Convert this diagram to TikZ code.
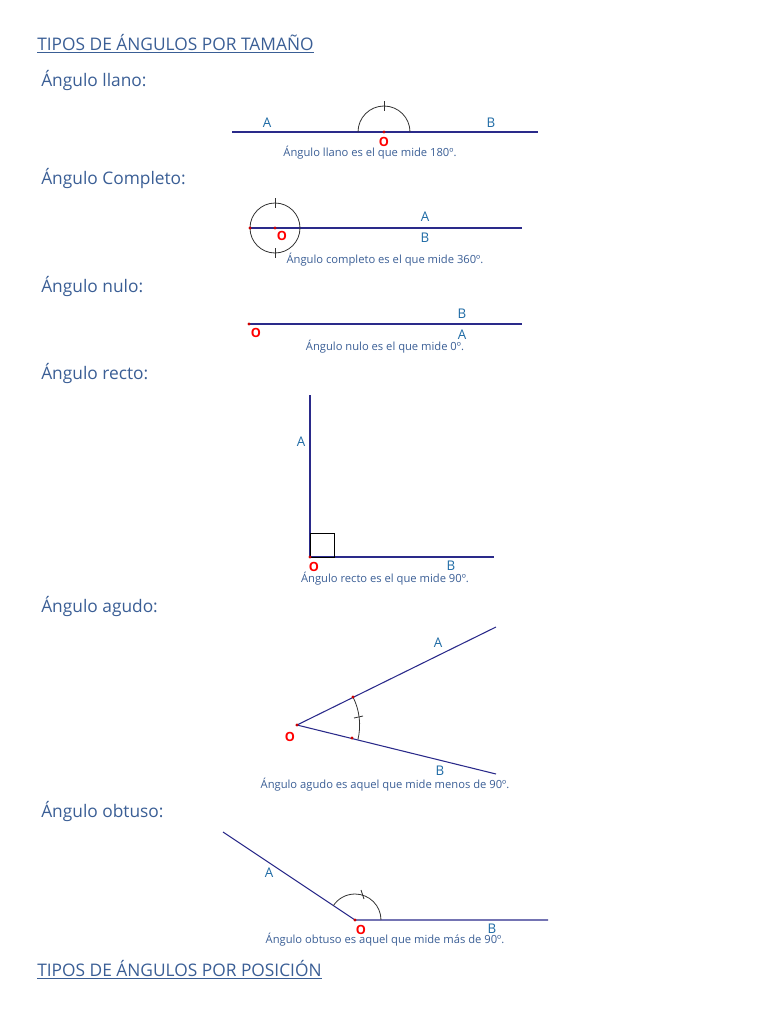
\documentclass[tikz,border=0pt]{standalone}
\usepackage{fontspec}
\setmainfont{Open Sans}
\begin{document}
\begin{tikzpicture}[x=0.75pt,y=-0.75pt,
  ln/.style={draw=navyc,line width=0.8pt},
  arcl/.style={draw=black!80,line width=0.6pt},
  head/.style={anchor=west,text=headc,font=\fontsize{13}{15}\selectfont,inner sep=0pt},
  captxt/.style={text=headc,font=\fontsize{8.4}{10}\selectfont,inner sep=0pt},
  lab/.style={text=labc,font=\fontsize{10}{11}\selectfont,inner sep=0pt},
  olab/.style={text=red,font=\bfseries\fontsize{9.5}{10}\selectfont,inner sep=0pt},
  dot/.style={circle,fill=red!80!black,inner sep=0pt,minimum size=2.5pt}]
\definecolor{navyc}{HTML}{2A2A8A}
\definecolor{headc}{HTML}{3A5E95}
\definecolor{labc}{HTML}{1F6BA5}
\useasboundingbox (0,0) rectangle (768,1024);
% headings
\node[head] (h0) at (37,44) {\underline{TIPOS DE ÁNGULOS POR TAMAÑO}};
\node[head] (h1) at (41,81) {Ángulo llano:};
\node[head] (h2) at (41,179) {Ángulo Completo:};
\node[head] (h3) at (41,287) {Ángulo nulo:};
\node[head] (h4) at (41,374) {Ángulo recto:};
\node[head] (h5) at (41,607) {Ángulo agudo:};
\node[head] (h6) at (41,812) {Ángulo obtuso:};
\node[head] (h7) at (37,970) {\underline{TIPOS DE ÁNGULOS POR POSICIÓN}};
% llano
\coordinate (l1) at (232,132); \coordinate (l2) at (538,132);
\draw[ln] (l1) -- (l2);
\draw[arcl] (410,132) arc[start angle=0,end angle=180,radius=19.5pt];
\draw[arcl] (384,101) -- (384,111);
\node[dot] (lo) at (384,132) {};
\node[lab] (la) at (267,123) {A};
\node[lab] (lb) at (491,123) {B};
\node[olab] (lol) at (384,142) {O};
\node[captxt] (lc) at (370,153) {Ángulo llano es el que mide 180º.};
% completo
\coordinate (c1) at (250,228); \coordinate (c2) at (522,228);
\draw[ln] (c1) -- (c2);
\draw[arcl] (275,228) circle[radius=18.75pt];
\draw[arcl] (275,198) -- (275,208);
\draw[arcl] (275,248) -- (275,258);
\node[dot] (co) at (275,228) {};
\node[dot] (ce) at (250,228) {};
\node[olab] (col) at (282,236) {O};
\node[lab] (ca) at (425,217) {A};
\node[lab] (cb) at (425,238) {B};
\node[captxt] (cc) at (385,260) {Ángulo completo es el que mide 360º.};
% nulo
\coordinate (n1) at (249,324); \coordinate (n2) at (522,324);
\draw[ln] (n1) -- (n2);
\node[dot] (no) at (249,324) {};
\node[olab] (nol) at (256,333) {O};
\node[lab] (nb) at (462,314) {B};
\node[lab] (na) at (462,335) {A};
\node[captxt] (nc) at (385,347) {Ángulo nulo es el que mide 0º.};
% recto
\coordinate (r0) at (310,557); \coordinate (ra) at (310,395); \coordinate (rb) at (494,557);
\draw[ln] (ra) -- (r0) -- (rb);
\draw[black,line width=0.6pt] (310,533) rectangle (334,557);
\node[dot] (ro) at (r0) {};
\node[lab] (ral) at (301,442) {A};
\node[olab] (rol) at (314,567) {O};
\node[lab] (rbl) at (451,566) {B};
\node[captxt] (rc) at (385,579) {Ángulo recto es el que mide 90º.};
% agudo
\coordinate (a0) at (297,725); \coordinate (aa) at (496,627); \coordinate (ab) at (496,774);
\draw[ln] (aa) -- (a0) -- (ab);
\draw[arcl] (353,697) arc[start angle=26.6,end angle=-13.3,radius=47pt];
\draw[arcl] (354,718) -- (363,716);
\node[dot] (ad1) at (353,697) {};
\node[dot] (ad2) at (352,738) {};
\node[dot] (ao) at (a0) {};
\node[olab] (aol) at (290,737) {O};
\node[lab] (aal) at (438,643) {A};
\node[lab] (abl) at (440,771) {B};
\node[captxt] (ac) at (385,785) {Ángulo agudo es aquel que mide menos de 90º.};
% obtuso
\coordinate (o0) at (355,920); \coordinate (oa) at (223,832); \coordinate (ob) at (548,920);
\draw[ln] (oa) -- (o0) -- (ob);
\draw[arcl] (381,920) arc[start angle=0,end angle=146.3,radius=19.5pt];
\draw[arcl] (361,890) -- (364,899);
\node[dot] (oo) at (o0) {};
\node[olab] (ool) at (361,930) {O};
\node[lab] (oal) at (269,873) {A};
\node[lab] (obl) at (492,929) {B};
\node[captxt] (oc) at (385,940) {Ángulo obtuso es aquel que mide más de 90º.};
\end{tikzpicture}
\end{document}
